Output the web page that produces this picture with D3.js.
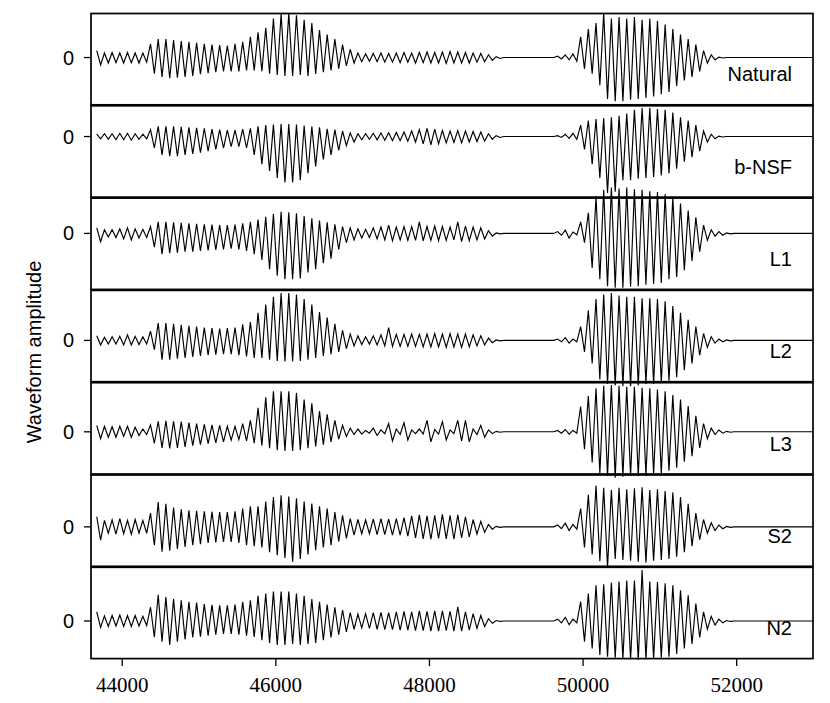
<!DOCTYPE html>
<html>
<head>
<meta charset="utf-8">
<script src="https://cdn.jsdelivr.net/npm/d3@7"></script>
<style>
  body { margin: 0; background: #fff; }
</style>
</head>
<body>
<div id="mainDiv"></div>
<script>
// panel names, top to bottom
var panelNames = ["Natural", "b-NSF", "L1", "L2", "L3", "S2", "N2"];
var xTicks = [44000, 46000, 48000, 50000, 52000];
var yTicks = [0];
var xLimits = [43600, 53000];
// y limits of each panel (amplitude x100)
var yLimits = [[-104, 97], [-133, 68], [-123, 78], [-91, 110], [-93, 108], [-87, 114], [-83, 118]];

// waveform peaks per 100-sample bin, starting at sample 43700 (positive / negative peak)
var binStart = 43700, binStep = 100;

var naturalHi = [15,10,11,10,11,10,10, 30,
  40,40,38,36,34,32,30,28,27,26,30,34, 45,55,65, 85,95,97,92,
  82,75,60,50,40,28,18,10,
  8,9,10,9,10,11,10,11,12,11,12,13,12,11,10,9,6,2,
  0,0,0,0,0,0,0, 3,6,8,
  45,62,75,97,85,88,85,88,82,85,80,72,62,50,40,28,15,6,1,
  0,0,0,0,0,0,0,0,0,0,0,0];
var naturalLo = [-16,-12,-11,-12,-11,-12,-10, -35,
  -42,-45,-44,-42,-40,-36,-34,-32,-30,-30,-30,-28, -28,-30,-35, -38,-40,-40,-38,
  -40,-36,-32,-28,-24,-18,-12,-9,
  -8,-9,-10,-10,-11,-10,-12,-11,-12,-12,-13,-12,-12,-12,-10,-9,-6,-2,
  0,0,0,0,0,0,0, -3,-5,-8,
  -25,-35,-60,-90,-95,-95,-92,-90,-88,-85,-80,-75,-62,-50,-42,-30,-12,-5,-1,
  0,0,0,0,0,0,0,0,0,0,0,0];

var bnsfHi = [5,6,6,7,7,6,5, 15,
  22,22,22,21,20,19,18,16,15,14,14,16, 18,22,25, 26,27,27,26,
  24,22,20,17,15,12,8,6,
  6,7,8,8,9,10,12,15,18,16,13,12,13,12,11,10,6,2,
  0,0,0,0,0,0,0, 2,5,7,
  25,35,38,40,42,45,50,58,62,62,60,58,52,42,35,25,12,5,1,
  0,0,0,0,0,0,0,0,0,0,0,0];
var bnsfLo = [-5,-6,-7,-7,-8,-6,-5, -25,
  -40,-43,-43,-40,-38,-35,-32,-28,-25,-22,-22,-25, -40,-60,-75, -90,-100,-100,-95,
  -80,-65,-50,-40,-30,-20,-12,-7,
  -6,-7,-8,-9,-9,-10,-12,-16,-18,-16,-14,-13,-14,-12,-11,-10,-6,-2,
  0,0,0,0,0,0,0, -2,-4,-6,
  -28,-60,-90,-123,-120,-95,-95,-92,-90,-88,-85,-80,-70,-55,-45,-32,-12,-5,-1,
  0,0,0,0,0,0,0,0,0,0,0,0];

var l1Hi = [12,8,8,10,12,10,9, 15,
  25,25,24,23,22,21,20,19,18,18,19,22,25,
  30,36,42,47,46,44,38,33,28,24,20,15,12,10,
  9,12,14,18,14,15,15,25,15,16,15,14,25,16,14,12,6,1,
  0,0,0,0,0,0,0, 4,7,3,
  25,45,80,95,100,98,100,96,95,92,90,85,78,65,50,35,18,8,4,1,
  0,0,0,0,0,0,0,0,0,0,0];
var l1Lo = [-18,-8,-9,-12,-14,-10,-9, -30,
  -45,-43,-42,-40,-40,-38,-37,-36,-35,-33,-35,-38,-45,
  -58,-78,-92,-100,-100,-98,-85,-78,-65,-55,-35,-20,-14,-10,
  -9,-12,-14,-16,-14,-15,-15,-16,-15,-16,-15,-14,-18,-16,-14,-12,-6,-1,
  0,0,0,0,0,0,0, -4,-10,-3,
  -20,-75,-100,-115,-118,-118,-116,-115,-112,-110,-108,-100,-95,-80,-60,-40,-15,-6,-4,-1,
  0,0,0,0,0,0,0,0,0,0,0];

var l2Hi = [10,7,8,9,12,9,8, 20,
  38,38,36,34,32,30,28,27,26,27,28,35,40,
  60,78,95,103,103,100,90,78,62,50,36,22,14,10,
  8,10,12,28,13,13,14,13,14,15,14,15,14,14,12,10,5,1,
  0,0,0,0,0,0,0, 3,6,3,
  30,65,90,100,103,98,95,95,92,92,90,85,75,60,45,30,15,8,3,1,
  0,0,0,0,0,0,0,0,0,0,0];
var l2Lo = [-10,-8,-8,-10,-10,-9,-8, -20,
  -42,-42,-40,-38,-36,-34,-32,-31,-30,-30,-32,-35,-38,
  -38,-42,-45,-46,-46,-45,-42,-38,-34,-30,-25,-18,-12,-9,
  -8,-10,-12,-13,-13,-13,-13,-14,-14,-14,-15,-14,-15,-14,-12,-10,-5,-1,
  0,0,0,0,0,0,0, -3,-6,-3,
  -25,-50,-85,-95,-98,-100,-100,-98,-95,-95,-92,-88,-80,-65,-50,-32,-15,-6,-3,-1,
  0,0,0,0,0,0,0,0,0,0,0];

var l3Hi = [14,12,11,12,12,10,6, 15,
  23,24,23,22,20,18,16,15,14,12,12,18,25,
  52,75,88,88,88,85,70,62,45,38,25,14,8,6,
  3,8,4,18,6,20,4,6,25,5,22,4,25,25,6,14,4,1,
  0,0,0,0,0,0,0, 3,5,3,
  55,78,95,100,102,100,98,98,96,95,92,88,80,70,56,35,18,8,4,1,
  0,0,0,0,0,0,0,0,0,0,0];
var l3Lo = [-15,-12,-12,-10,-12,-8,-6, -25,
  -35,-36,-35,-33,-30,-28,-26,-24,-22,-18,-17,-20,-25,
  -30,-36,-40,-42,-42,-40,-36,-32,-28,-22,-16,-10,-6,-5,
  -3,-8,-4,-20,-6,-18,-4,-5,-22,-5,-18,-4,-20,-22,-6,-12,-4,-1,
  0,0,0,0,0,0,0, -3,-5,-3,
  -38,-67,-90,-95,-100,-98,-96,-96,-95,-92,-90,-85,-78,-65,-53,-35,-15,-6,-3,-1,
  0,0,0,0,0,0,0,0,0,0,0];

var s2Hi = [22,14,15,18,14,16,14, 30,
  54,50,42,38,36,35,34,33,32,32,34,40,45,
  45,55,65,69,66,62,55,51,45,40,32,25,18,16,
  15,17,18,17,18,20,24,26,24,25,27,25,26,22,16,12,5,1,
  0,0,0,0,0,0,0, 4,8,5,
  40,70,90,85,80,85,82,84,86,80,82,78,75,65,50,30,16,9,4,1,
  0,0,0,0,0,0,0,0,0,0,0];
var s2Lo = [-29,-14,-16,-15,-16,-14,-14, -40,
  -54,-52,-48,-44,-40,-38,-35,-34,-33,-33,-35,-40,-42,
  -45,-55,-62,-68,-76,-70,-60,-51,-45,-40,-32,-25,-18,-15,
  -15,-17,-17,-18,-18,-20,-24,-26,-27,-25,-26,-27,-24,-22,-16,-12,-5,-1,
  0,0,0,0,0,0,0, -4,-8,-5,
  -45,-60,-75,-88,-70,-72,-74,-76,-78,-74,-72,-70,-65,-55,-42,-28,-14,-8,-4,-1,
  0,0,0,0,0,0,0,0,0,0,0];

var n2Hi = [20,11,12,13,12,12,10, 30,
  57,52,48,45,42,40,37,35,34,34,36,42,45,
  55,60,64,64,64,60,55,48,42,36,30,24,18,15,
  16,18,19,18,20,21,20,22,21,22,22,21,31,20,16,12,5,1,
  0,0,0,0,0,0,0, 4,8,4,
  42,60,78,80,84,86,88,88,111,86,85,82,78,67,56,38,20,10,4,1,
  0,0,0,0,0,0,0,0,0,0,0];
var n2Lo = [-14,-12,-11,-12,-12,-11,-10, -35,
  -45,-52,-45,-40,-36,-34,-32,-30,-28,-28,-30,-32,-35,
  -42,-48,-52,-52,-50,-52,-50,-48,-42,-36,-30,-24,-18,-15,
  -16,-18,-19,-19,-20,-20,-21,-21,-22,-22,-21,-22,-22,-20,-16,-12,-5,-1,
  0,0,0,0,0,0,0, -4,-8,-4,
  -45,-60,-74,-78,-80,-82,-84,-85,-84,-82,-80,-78,-72,-60,-50,-36,-18,-9,-4,-1,
  0,0,0,0,0,0,0,0,0,0,0];

var waveHi = [naturalHi, bnsfHi, l1Hi, l2Hi, l3Hi, s2Hi, n2Hi];
var waveLo = [naturalLo, bnsfLo, l1Lo, l2Lo, l3Lo, s2Lo, n2Lo];

var sans = "'Liberation Sans', Arial, Helvetica, sans-serif";
var serif = "'Liberation Serif', 'Times New Roman', serif";

var svgW = 830, svgH = 703;
var plotLeft = 91, plotRight = 813, plotTop = 13, panelH = 92.3;
var plotBottom = plotTop + panelH * panelNames.length;

var mySvg = d3.select("#mainDiv").append("svg")
              .attr("width", svgW)
              .attr("height", svgH);

var x = d3.scaleLinear().domain(xLimits).range([plotLeft, plotRight]);

// clip only left/right so spikes can run over the panel borders
mySvg.append("clipPath").attr("id", "clipX")
     .append("rect")
     .attr("x", plotLeft).attr("y", 0)
     .attr("width", plotRight - plotLeft).attr("height", svgH);

for (var i = 0; i < panelNames.length; i++) {
    var y0 = plotTop + i * panelH;
    var y = d3.scaleLinear().domain(yLimits[i]).range([y0 + panelH, y0]);

    // zigzag through each bin's positive then negative peak
    var pts = [];
    waveHi[i].forEach(function (h, j) {
        var t = binStart + j * binStep;
        pts.push([t - binStep / 4, h]);
        pts.push([t + binStep / 4, waveLo[i][j]]);
    });

    var line = d3.line()
                 .x(function (d) { return x(d[0]); })
                 .y(function (d) { return y(d[1]); });

    mySvg.append("path")
         .datum(pts)
         .attr("d", line)
         .attr("clip-path", "url(#clipX)")
         .attr("fill", "none")
         .attr("stroke", "#000")
         .attr("stroke-width", 1.15)
         .attr("stroke-linejoin", "miter");

    mySvg.append("rect")
         .attr("x", plotLeft)
         .attr("y", y0 + 0.5)
         .attr("width", plotRight - plotLeft)
         .attr("height", panelH - 1)
         .attr("fill", "none")
         .attr("stroke", "#000")
         .attr("stroke-width", 1.7);

    yTicks.forEach(function (v) {
        mySvg.append("line")
             .attr("x1", plotLeft - 7).attr("x2", plotLeft)
             .attr("y1", y(v)).attr("y2", y(v))
             .attr("stroke", "#000")
             .attr("stroke-width", 1.3);
        mySvg.append("text")
             .text(v)
             .attr("x", plotLeft - 17)
             .attr("y", y(v) + 7)
             .attr("text-anchor", "end")
             .attr("font-family", sans)
             .attr("font-size", 20);
    });

    mySvg.append("text")
         .text(panelNames[i])
         .attr("x", 792)
         .attr("y", y0 + panelH - 24)
         .attr("text-anchor", "end")
         .attr("font-family", sans)
         .attr("font-size", 20);
}

var xAxis = mySvg.append("g")
                 .attr("transform", "translate(0," + plotBottom + ")")
                 .call(d3.axisBottom(x).tickValues(xTicks).tickSize(7).tickPadding(11).tickFormat(d3.format("d")));
xAxis.select(".domain").remove();
xAxis.selectAll("line").attr("stroke-width", 1.3);
xAxis.selectAll("text")
     .attr("font-family", serif)
     .attr("font-size", 21)
     .attr("fill", "#000");

mySvg.append("text")
     .text("Waveform amplitude")
     .attr("transform", "translate(34,352) rotate(-90)")
     .attr("text-anchor", "middle")
     .attr("dominant-baseline", "central")
     .attr("font-family", sans)
     .attr("font-size", 20);
</script>
</body>
</html>
